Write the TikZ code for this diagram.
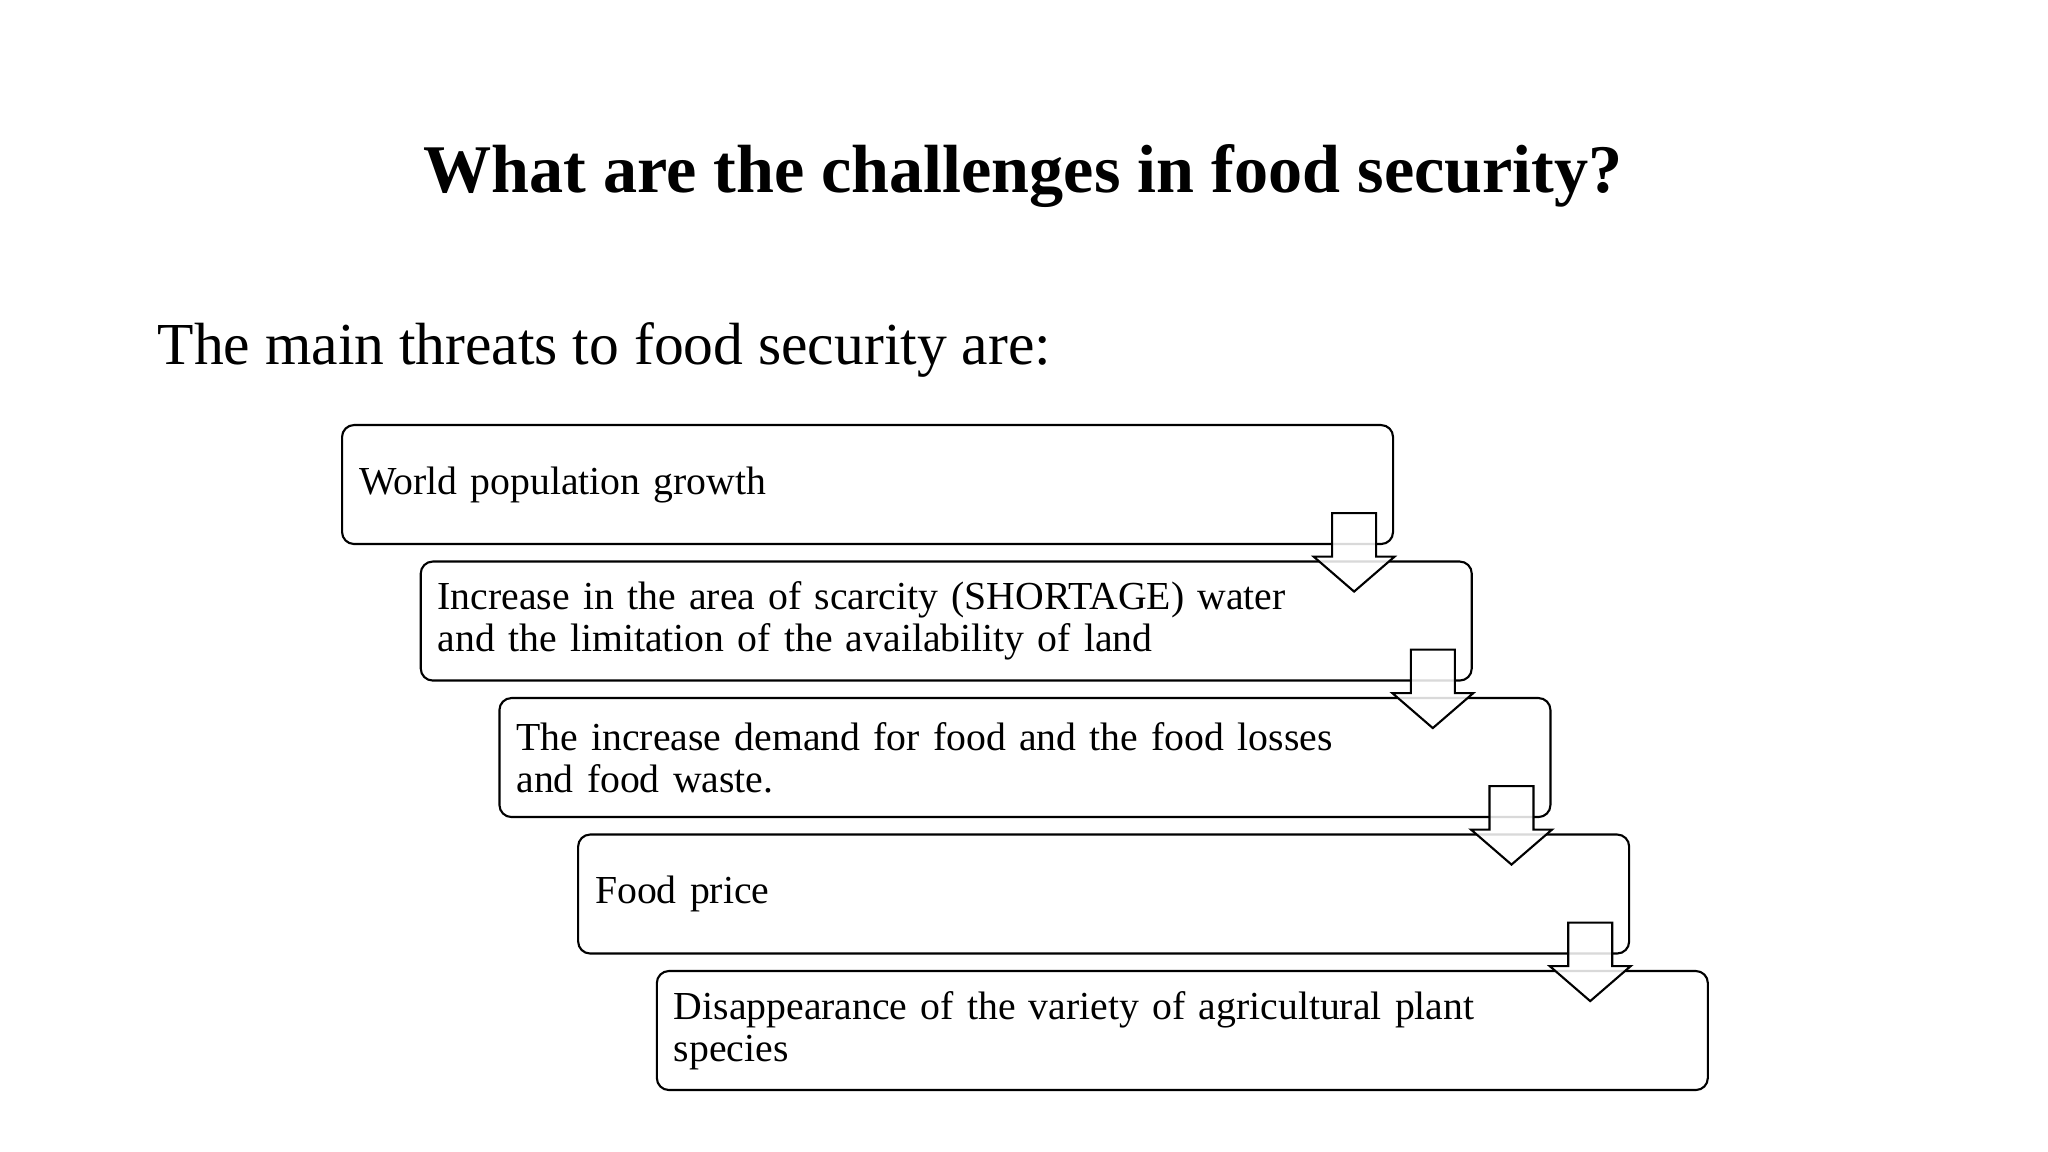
\documentclass[tikz,border=0pt]{standalone}
\usepackage{fontspec}
\setmainfont{Liberation Serif}
\usetikzlibrary{calc}
\tikzstyle{threat}=[draw, rounded corners = .12cm, line width = .6pt, anchor = north west, minimum width = 10.51cm, minimum height = 1.19cm, inner xsep = .17cm, inner ysep = 0cm, text width = 10.17cm, align = left, font = \fontsize{11.3}{11.95}\selectfont]
\tikzstyle{blockarrow}=[draw, fill = white, fill opacity = .85, line width = .6pt, line join = miter]

\begin{document}
\begin{tikzpicture}
\useasboundingbox (0, 0) rectangle (20.48, 11.52);
\node (title) at (10.23, 9.59) [anchor = base, inner sep = 0, font = \bfseries\fontsize{19.4}{23}\selectfont] {What are the challenges in food security?};
\node (sub) at (1.57, 7.87) [anchor = base west, inner sep = 0, font = \fontsize{16.95}{20}\selectfont] {The main threats to food security are:};
%%%%%%%%%%%%%%%%%%%%%%%
\node (b1) at (3.41, 7.28) [threat] {World population growth};
\node (b2) at (4.197, 5.915) [threat] {Increase in the area of scarcity (SHORTAGE) water\\and the limitation of the availability of land};
\node (b3) at (4.984, 4.55) [threat] {The increase demand for food and the food losses\\and food waste.};
\node (b4) at (5.771, 3.185) [threat] {Food price};
\node (b5) at (6.558, 1.82) [threat] {Disappearance of the variety of agricultural plant\\species};
%%%%%%%%%%%%%%%%%%%%%%%
\foreach \a/\b in {b1/b2, b2/b3, b3/b4, b4/b5}
  \draw [blockarrow] ($(\a.south east)+(-.62, .32)$) -- ++(.44, 0) -- ++(0, -.435) -- ++(.185, 0) -- ++(-.405, -.35) -- ++(-.405, .35) -- ++(.185, 0) -- cycle;
\end{tikzpicture}
\end{document}
